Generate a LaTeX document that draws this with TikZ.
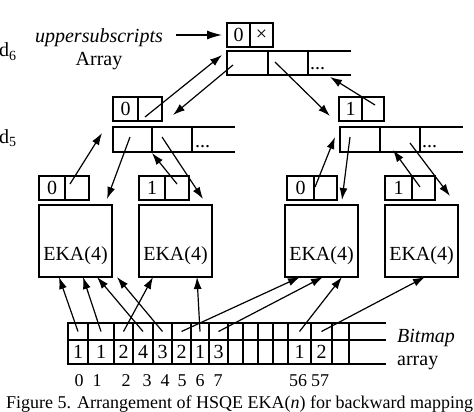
\documentclass[tikz,border=0pt]{standalone}
\usepackage{fontspec}
\setmainfont{Liberation Serif}
\usetikzlibrary{arrows.meta}

\begin{document}
\begin{tikzpicture}[x=1pt,y=-1pt,
    every node/.style={font=\fontsize{20}{24}\selectfont},
    cell/.style={draw,line width=1.2pt,anchor=north west,inner sep=0pt,outer sep=0pt,minimum height=24pt},
    eka/.style={draw,line width=1.2pt,anchor=north west,inner sep=0pt,outer sep=0pt,minimum width=73pt,minimum height=72pt},
    dots/.style={anchor=base west,inner sep=0pt},
    idx/.style={anchor=base,inner sep=0pt,font=\fontsize{18}{22}\selectfont},
    line/.style={line width=1.2pt},
    arr/.style={line width=1.2pt,-{Latex[length=12pt,width=8pt]}}]
    \useasboundingbox (0,0) rectangle (474,412);

    % labels
    \node[anchor=base,font=\fontsize{20}{24}\selectfont\itshape] (us) at (99,43) {uppersubscripts};
    \node[anchor=base] (ar) at (99,66) {Array};
    \node[anchor=base west,inner sep=0pt] (d6) at (-1,57) {d\textsubscript{6}};
    \node[anchor=base west,inner sep=0pt] (d5) at (-1,143) {d\textsubscript{5}};

    % level 6
    \node[cell,minimum width=23pt] (t0) at (227,23) {0};
    \node[cell,minimum width=23pt] (t1) at (250,23) {×};
    \node[cell,minimum width=41pt] (a6a) at (227,51) {};
    \node[cell,minimum width=40pt] (a6b) at (268,51) {};
    \draw[line] (a6b.north east) -- ++(43,0);
    \draw[line] (a6b.south east) -- ++(43,0);
    \node[dots] at (310,70) {...};

    % level 5
    \node[cell,minimum width=25pt] (s5a) at (113,97) {0};
    \node[cell,minimum width=24pt] (s5b) at (138,97) {};
    \node[cell,minimum width=23pt] (s5c) at (339,97) {1};
    \node[cell,minimum width=22pt] (s5d) at (362,97) {};
    \node[cell,minimum width=39pt,minimum height=25pt] (a5a) at (113,127) {};
    \node[cell,minimum width=40pt,minimum height=25pt] (a5b) at (152,127) {};
    \draw[line] (a5b.north east) -- ++(43,0);
    \draw[line] (a5b.south east) -- ++(43,0);
    \node[dots] at (195,147) {...};
    \node[cell,minimum width=40pt,minimum height=25pt] (a5c) at (340,127) {};
    \node[cell,minimum width=40pt,minimum height=25pt] (a5d) at (380,127) {};
    \draw[line] (a5d.north east) -- ++(43,0);
    \draw[line] (a5d.south east) -- ++(43,0);
    \node[dots] at (422,147) {...};

    % level 4
    \foreach \x/\w/\v [count=\i] in {39/26/0,139/26/1,287/27/0,385/27/1}{
        \node[cell,minimum width=\w pt] (s4\i) at (\x,176) {\v};
        \node[cell,minimum width=50pt-\w pt] (p4\i) at (\x+\w,176) {};
    }
    \foreach \x [count=\i] in {39,139,285,385}{
        \node[eka] (e\i) at (\x,205) {};
        \node[anchor=base] (k\i) at ([yshift=-19.5pt]e\i.center) {EKA(4)};
    }

    % bitmap array
    \foreach \l/\r/\v [count=\i] in {68/88/1,88/114/1,114/133/2,133/153/4,153/172/3,172/191/2,
        191/209/1,209/228/3,228/243/{},243/258/{},258/273/{},273/288/{},288/311/1,311/332/2,332/349/{}}{
        \node[cell,minimum width=\r pt-\l pt,minimum height=17pt] (b\i) at (\l,323) {};
        \node[cell,minimum width=\r pt-\l pt,minimum height=24pt] (c\i) at (\l,340) {\v};
    }
    \draw[line] (b15.north east) -- ++(37,0);
    \draw[line] (c15.north east) -- ++(37,0);
    \draw[line] (c15.south east) -- ++(37,0);
    \foreach \x/\n in {79/0,97/1,126/2,147/3,165/4,182/5,200/6,218/7,298/56,320/57}
        \node[idx] (n\n) at (\x,386) {\n};
    \node[anchor=base west,inner sep=0pt,font=\fontsize{20}{24}\selectfont\itshape] (bm) at (397,342) {Bitmap};
    \node[anchor=base west,inner sep=0pt] (ba) at (397,365) {array};

    % caption
    \node[anchor=base west,inner sep=0pt,font=\fontsize{18}{21}\selectfont] (cap) at (6,408) {Figure 5. Arrangement of HSQE EKA(\textit{n}) for backward mapping};

    % pointer ends
    \coordinate (q2s) at (145,117); \coordinate (q2e) at (222,55);
    \coordinate (q3s) at (233,65);  \coordinate (q3e) at (173,115);
    \coordinate (q4s) at (275,62);  \coordinate (q4e) at (330,116);
    \coordinate (q5s) at (375,105); \coordinate (q5e) at (330,77);
    \coordinate (q6s) at (70,184);  \coordinate (q6e) at (102,133);
    \coordinate (q7s) at (130,137); \coordinate (q7e) at (107,199);
    \coordinate (q8s) at (177,184); \coordinate (q8e) at (152,153);
    \coordinate (q9s) at (162,137); \coordinate (q9e) at (203,199);
    \coordinate (q10s) at (315,187); \coordinate (q10e) at (335,137);
    \coordinate (q11s) at (350,137); \coordinate (q11e) at (342,200);
    \coordinate (q12s) at (420,187); \coordinate (q12e) at (393,150);
    \coordinate (q13s) at (410,143); \coordinate (q13e) at (450,196);

    \draw[line width=1.2pt,-{Latex[length=15pt,width=9pt]},shorten <=10pt,shorten >=5pt] (us.east |- t0.west) -- (t0.west);
    \foreach \i in {2,...,13}
        \draw[arr] (q\i s) -- (q\i e);

    % bitmap to EKA
    \foreach \b/\e/\d in {1/1/20,2/1/44,3/2/14,4/1/58,5/1/78,6/3/15,7/2/58,8/3/38,13/3/57,14/4/40}
        \draw[arr] (b\b.center) -- ([xshift=\d pt]e\e.south west);
\end{tikzpicture}
\end{document}
